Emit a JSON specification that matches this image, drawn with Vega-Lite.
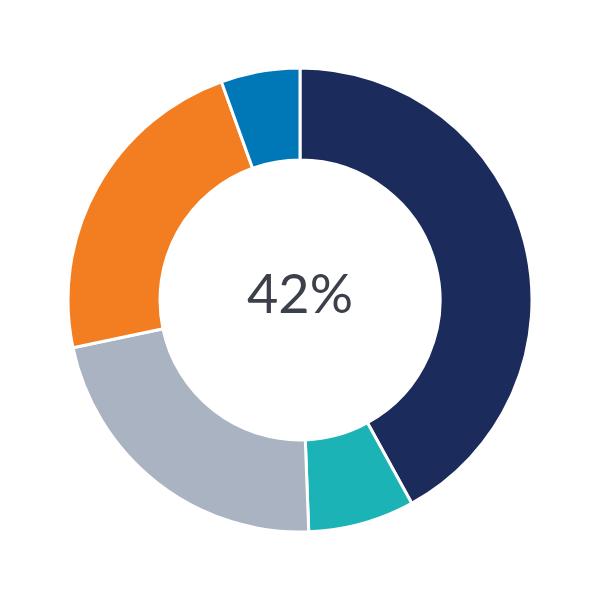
{
  "$schema": "https://vega.github.io/schema/vega-lite/v6.json",
  "width": 600,
  "height": 600,
  "autosize": {"type": "fit", "contains": "padding"},
  "padding": 0,
  "background": "white",
  "config": {"view": {"stroke": null}},
  "data": {
    "values": [
      {"segment": "A", "rank": 1, "share": 42.0},
      {"segment": "B", "rank": 2, "share": 7.4},
      {"segment": "C", "rank": 3, "share": 22.3},
      {"segment": "D", "rank": 4, "share": 22.8},
      {"segment": "E", "rank": 5, "share": 5.5}
    ]
  },
  "layer": [
    {
      "mark": {"type": "arc", "radius": 232, "radius2": 140, "stroke": "white", "strokeWidth": 3},
      "encoding": {
        "theta": {"field": "share", "type": "quantitative", "stack": true},
        "order": {"field": "rank", "type": "quantitative"},
        "color": {
          "field": "segment",
          "type": "nominal",
          "legend": null,
          "scale": {
            "domain": ["A", "B", "C", "D", "E"],
            "range": ["#1b2b5b", "#1bb3b6", "#a9b3c2", "#f37e21", "#0077b6"]
          }
        }
      }
    },
    {
      "data": {"values": [{"label": "42%"}]},
      "mark": {"type": "text", "font": "Lato", "fontSize": 54, "color": "#3b404b", "align": "center", "baseline": "middle", "dy": -3},
      "encoding": {"text": {"field": "label"}}
    }
  ]
}
